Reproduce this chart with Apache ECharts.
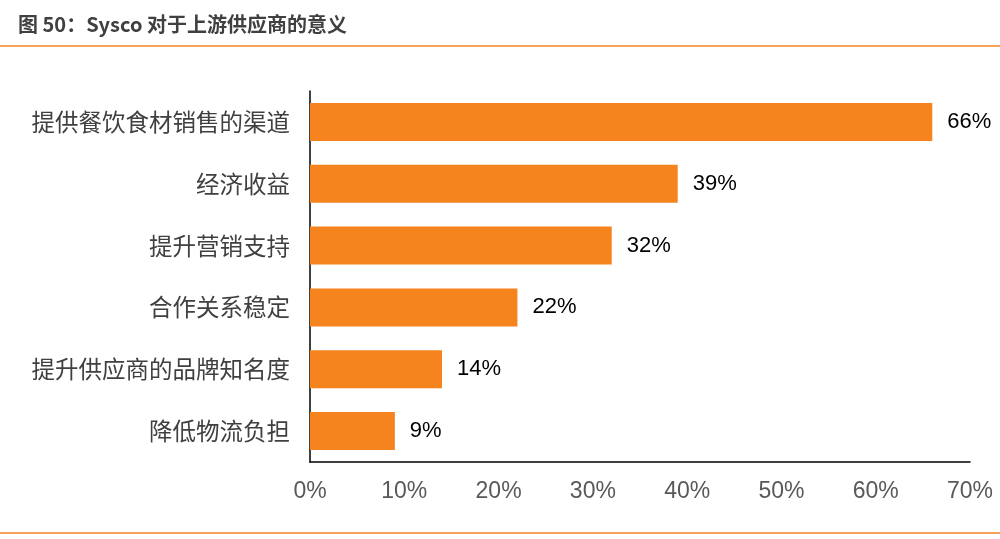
<!DOCTYPE html>
<html><head><meta charset="utf-8">
<script src="https://cdn.jsdelivr.net/npm/echarts@6/dist/echarts.min.js"></script>
<style>html,body{margin:0;padding:0;background:#fff}#c{width:1000px;height:539px}</style>
</head><body><div id="c"></div>
<script>
const categories = ['提供餐饮食材销售的渠道','经济收益','提升营销支持','合作关系稳定','提升供应商的品牌知名度','降低物流负担'];
const values = [66,39,32,22,14,9];
const xTicks = [0,10,20,30,40,50,60,70];
const title = '图 50：Sysco 对于上游供应商的意义';
const font = '"Noto Sans CJK SC","Liberation Sans",sans-serif';
const numFont = '"Liberation Sans",Arial,sans-serif';
const chart = echarts.init(document.getElementById('c'));
chart.setOption({
  animation:false,
  graphic:[
    {type:'text',left:18,top:14,style:{text:title,font:'bold 20px '+font,fill:'#404040'}},
    {type:'line',shape:{x1:0,y1:46,x2:1000,y2:46},style:{stroke:'#F5841F',lineWidth:1.5}},
    {type:'line',shape:{x1:0,y1:533,x2:1000,y2:533},style:{stroke:'#F5841F',lineWidth:1.5}}
  ],
  grid:{left:310,right:30,top:91,bottom:77,containLabel:false},
  xAxis:{type:'value',min:xTicks[0],max:xTicks[xTicks.length-1],interval:10,
    axisLine:{show:true,lineStyle:{color:'#000',width:1.5}},axisTick:{show:false},splitLine:{show:false},
    axisLabel:{formatter:'{value}%',color:'#595959',fontSize:23,fontFamily:numFont,margin:18}},
  yAxis:{type:'category',inverse:true,data:categories,
    axisLine:{show:true,lineStyle:{color:'#000',width:1.5}},
    axisTick:{show:false},
    axisLabel:{color:'#404040',fontSize:23.5,fontFamily:font,margin:20}},
  series:[{type:'bar',data:values,barWidth:38,itemStyle:{color:'#F5841F'},
    label:{show:true,position:'right',distance:15,formatter:'{c}%',color:'#000',fontSize:22,fontFamily:numFont}}]
});
</script></body></html>
